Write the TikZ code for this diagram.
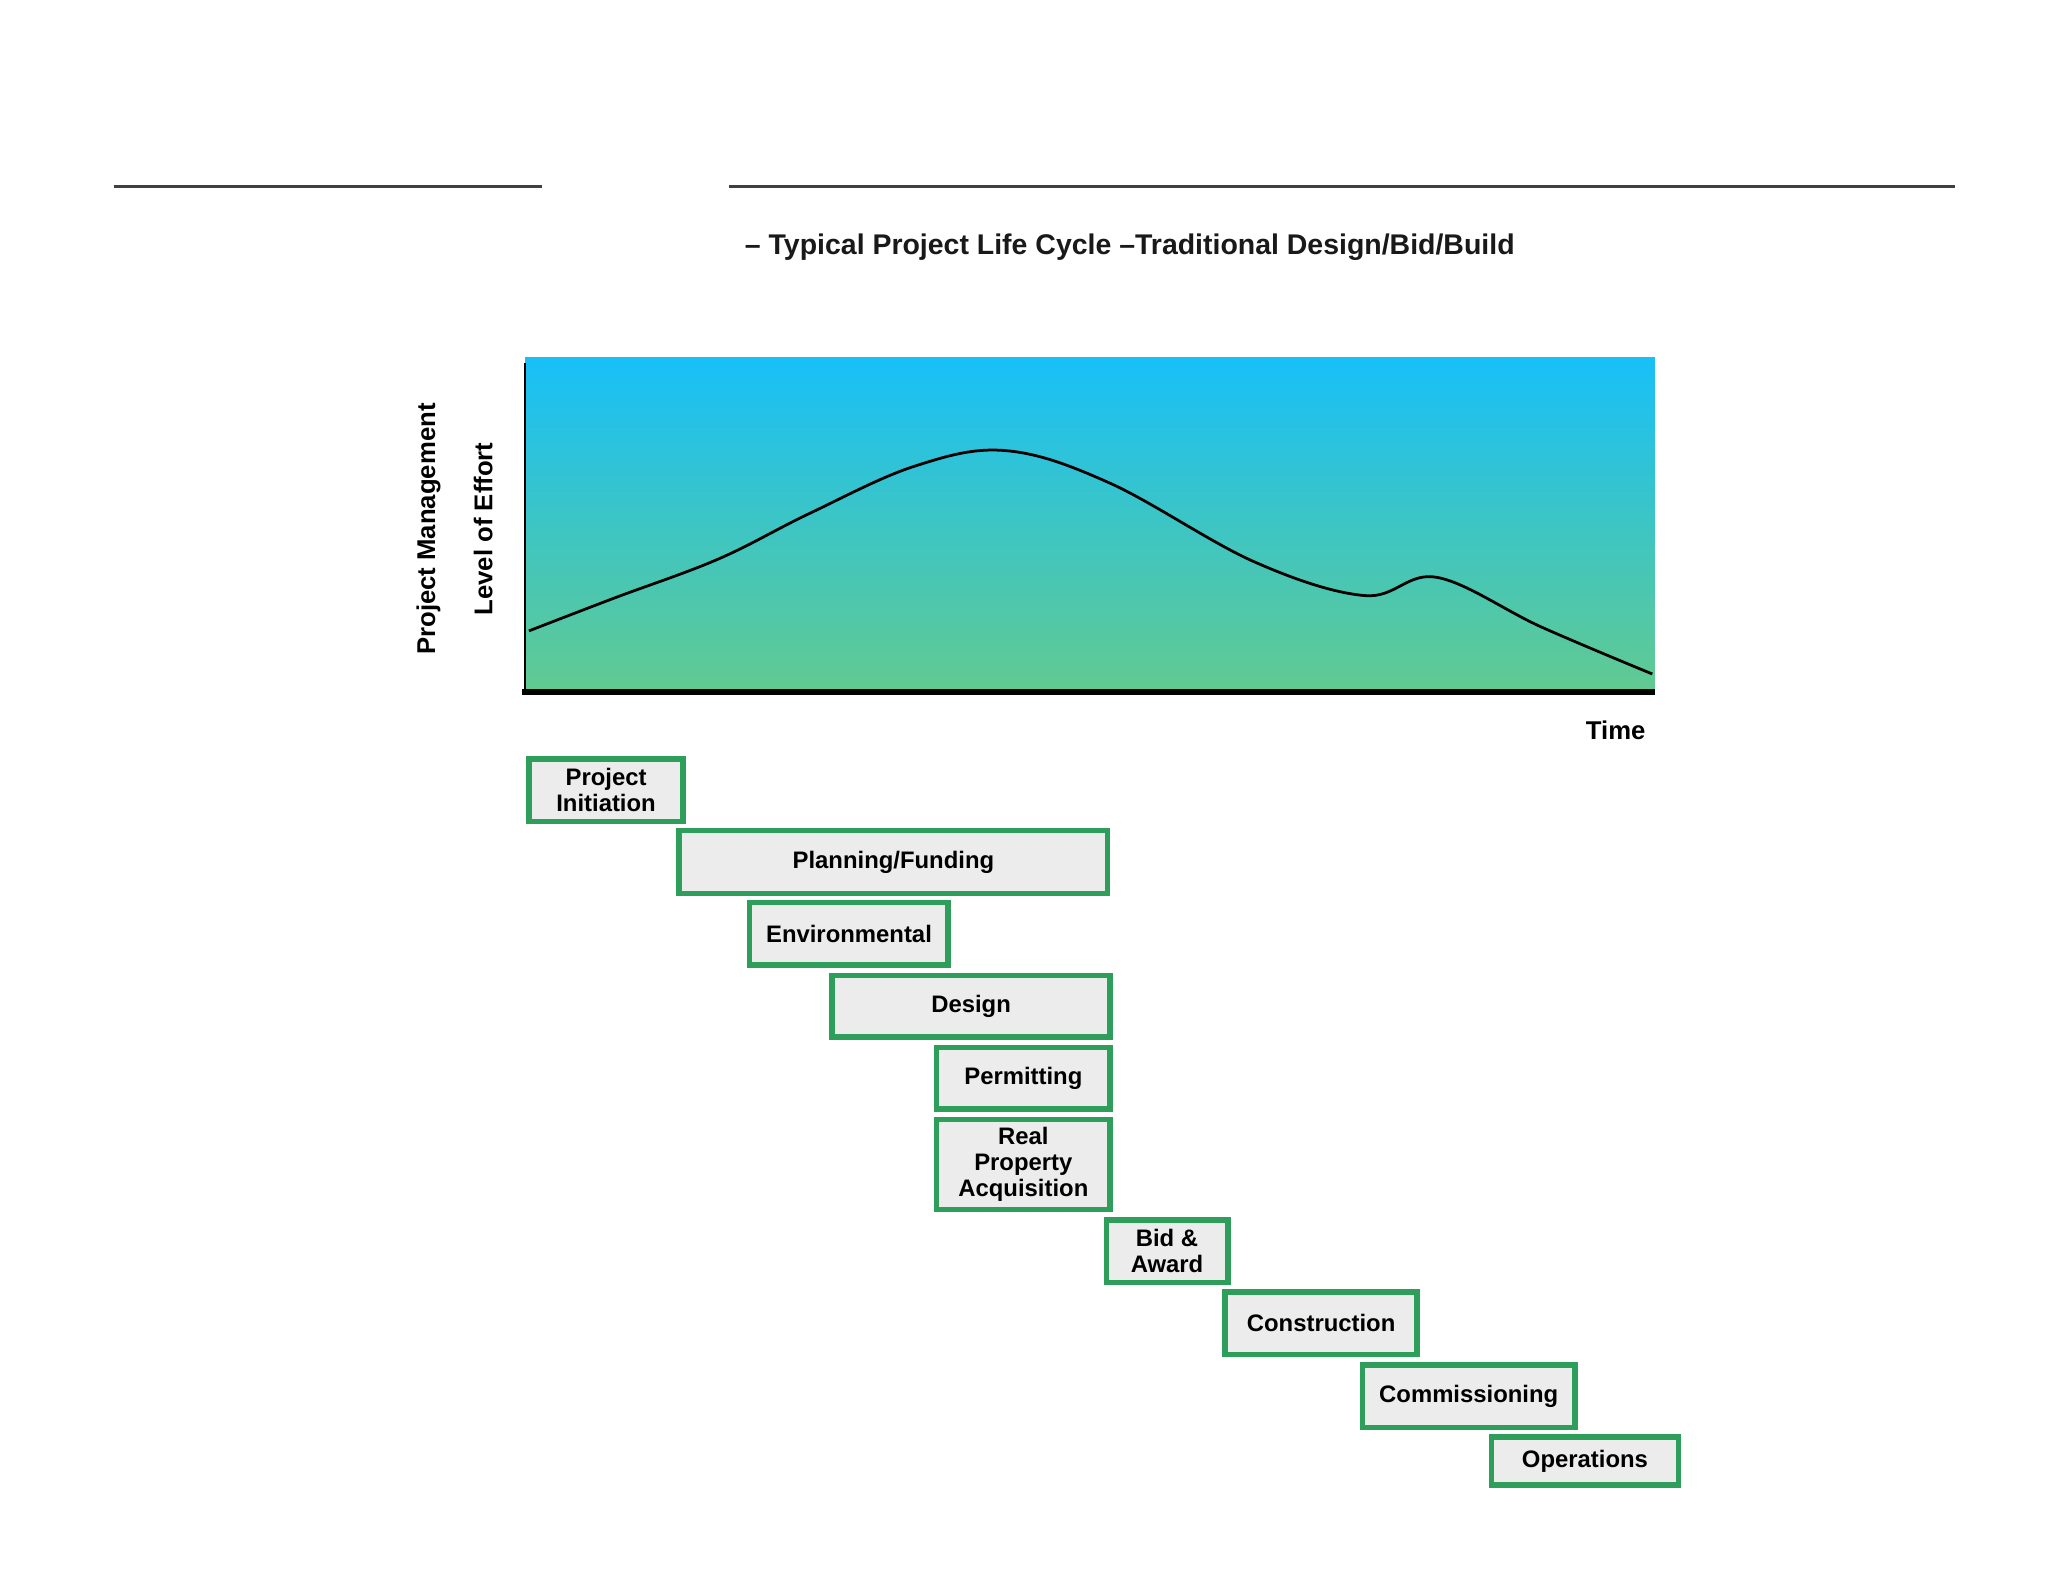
\documentclass[tikz,border=0pt]{standalone}
\usepackage{fontspec}
\setmainfont{Liberation Sans}
\begin{document}
\begin{tikzpicture}[x=0.1mm,y=-0.1mm,
  phase/.style={draw=green!55!black!80!cyan!90, line width=1.2pt, fill=gray!15, font=\bfseries\fontsize{5.2}{5.6}\selectfont, align=center, inner sep=0pt},
  lbl/.style={font=\bfseries\fontsize{5.6}{6}\selectfont}]
\useasboundingbox (0,0) rectangle (1568,1211);
\fill[white] (0,0) rectangle (1568,1211);
\definecolor{boxg}{HTML}{2E9E5B}
\tikzset{phase/.append style={draw=boxg}}
\draw[line width=0.6pt, gray!50!black] (87,143) -- (415,143);
\draw[line width=0.6pt, gray!50!black] (558,143) -- (1497,143);
\node[lbl, font=\bfseries\fontsize{6.2}{7}\selectfont, gray!20!black] (title) at (865,189) {– Typical Project Life Cycle –Traditional Design/Bid/Build};
\definecolor{topc}{HTML}{18C0F8}
\definecolor{botc}{HTML}{62CA90}
\shade[top color=topc, bottom color=botc] (402,274) rectangle (1267,530);
\draw[line width=0.6pt] (402,278) -- (402,530);
\draw[line width=1.4pt] (400,530) -- (1267,530);
\draw[line width=0.6pt] plot[smooth, tension=0.6] coordinates {(405,483) (470,458) (550,428) (620,393) (700,357) (770,345) (850,370) (960,430) (1045,456) (1100,442) (1180,480) (1265,516)};
\node[lbl, rotate=90] (pm) at (328,405) {Project Management};
\node[lbl, rotate=90] (le) at (370,405) {Level of Effort};
\node[lbl] (time) at (1237,559) {Time};
\newcommand{\ph}[6]{\node[phase, minimum width=#3*0.1mm-#2*0.1mm, minimum height=#5*0.1mm-#4*0.1mm] (#1) at ({(#2+#3)/2},{(#4+#5)/2}) {#6};}
\ph{pi}{405}{523}{581}{629}{Project\\ Initiation}
\ph{pf}{520}{848}{636}{684}{Planning/Funding}
\ph{env}{574}{726}{691}{739}{Environmental}
\ph{des}{637}{850}{747}{794}{Design}
\ph{per}{717}{850}{802}{849}{Permitting}
\ph{rpa}{717}{850}{857}{926}{Real\\ Property\\ Acquisition}
\ph{bid}{847}{940}{934}{982}{Bid \& \\ Award}
\ph{con}{938}{1085}{989}{1037}{Construction}
\ph{com}{1043}{1206}{1045}{1093}{Commissioning}
\ph{ops}{1142}{1285}{1100}{1137}{Operations}
\end{tikzpicture}
\end{document}
